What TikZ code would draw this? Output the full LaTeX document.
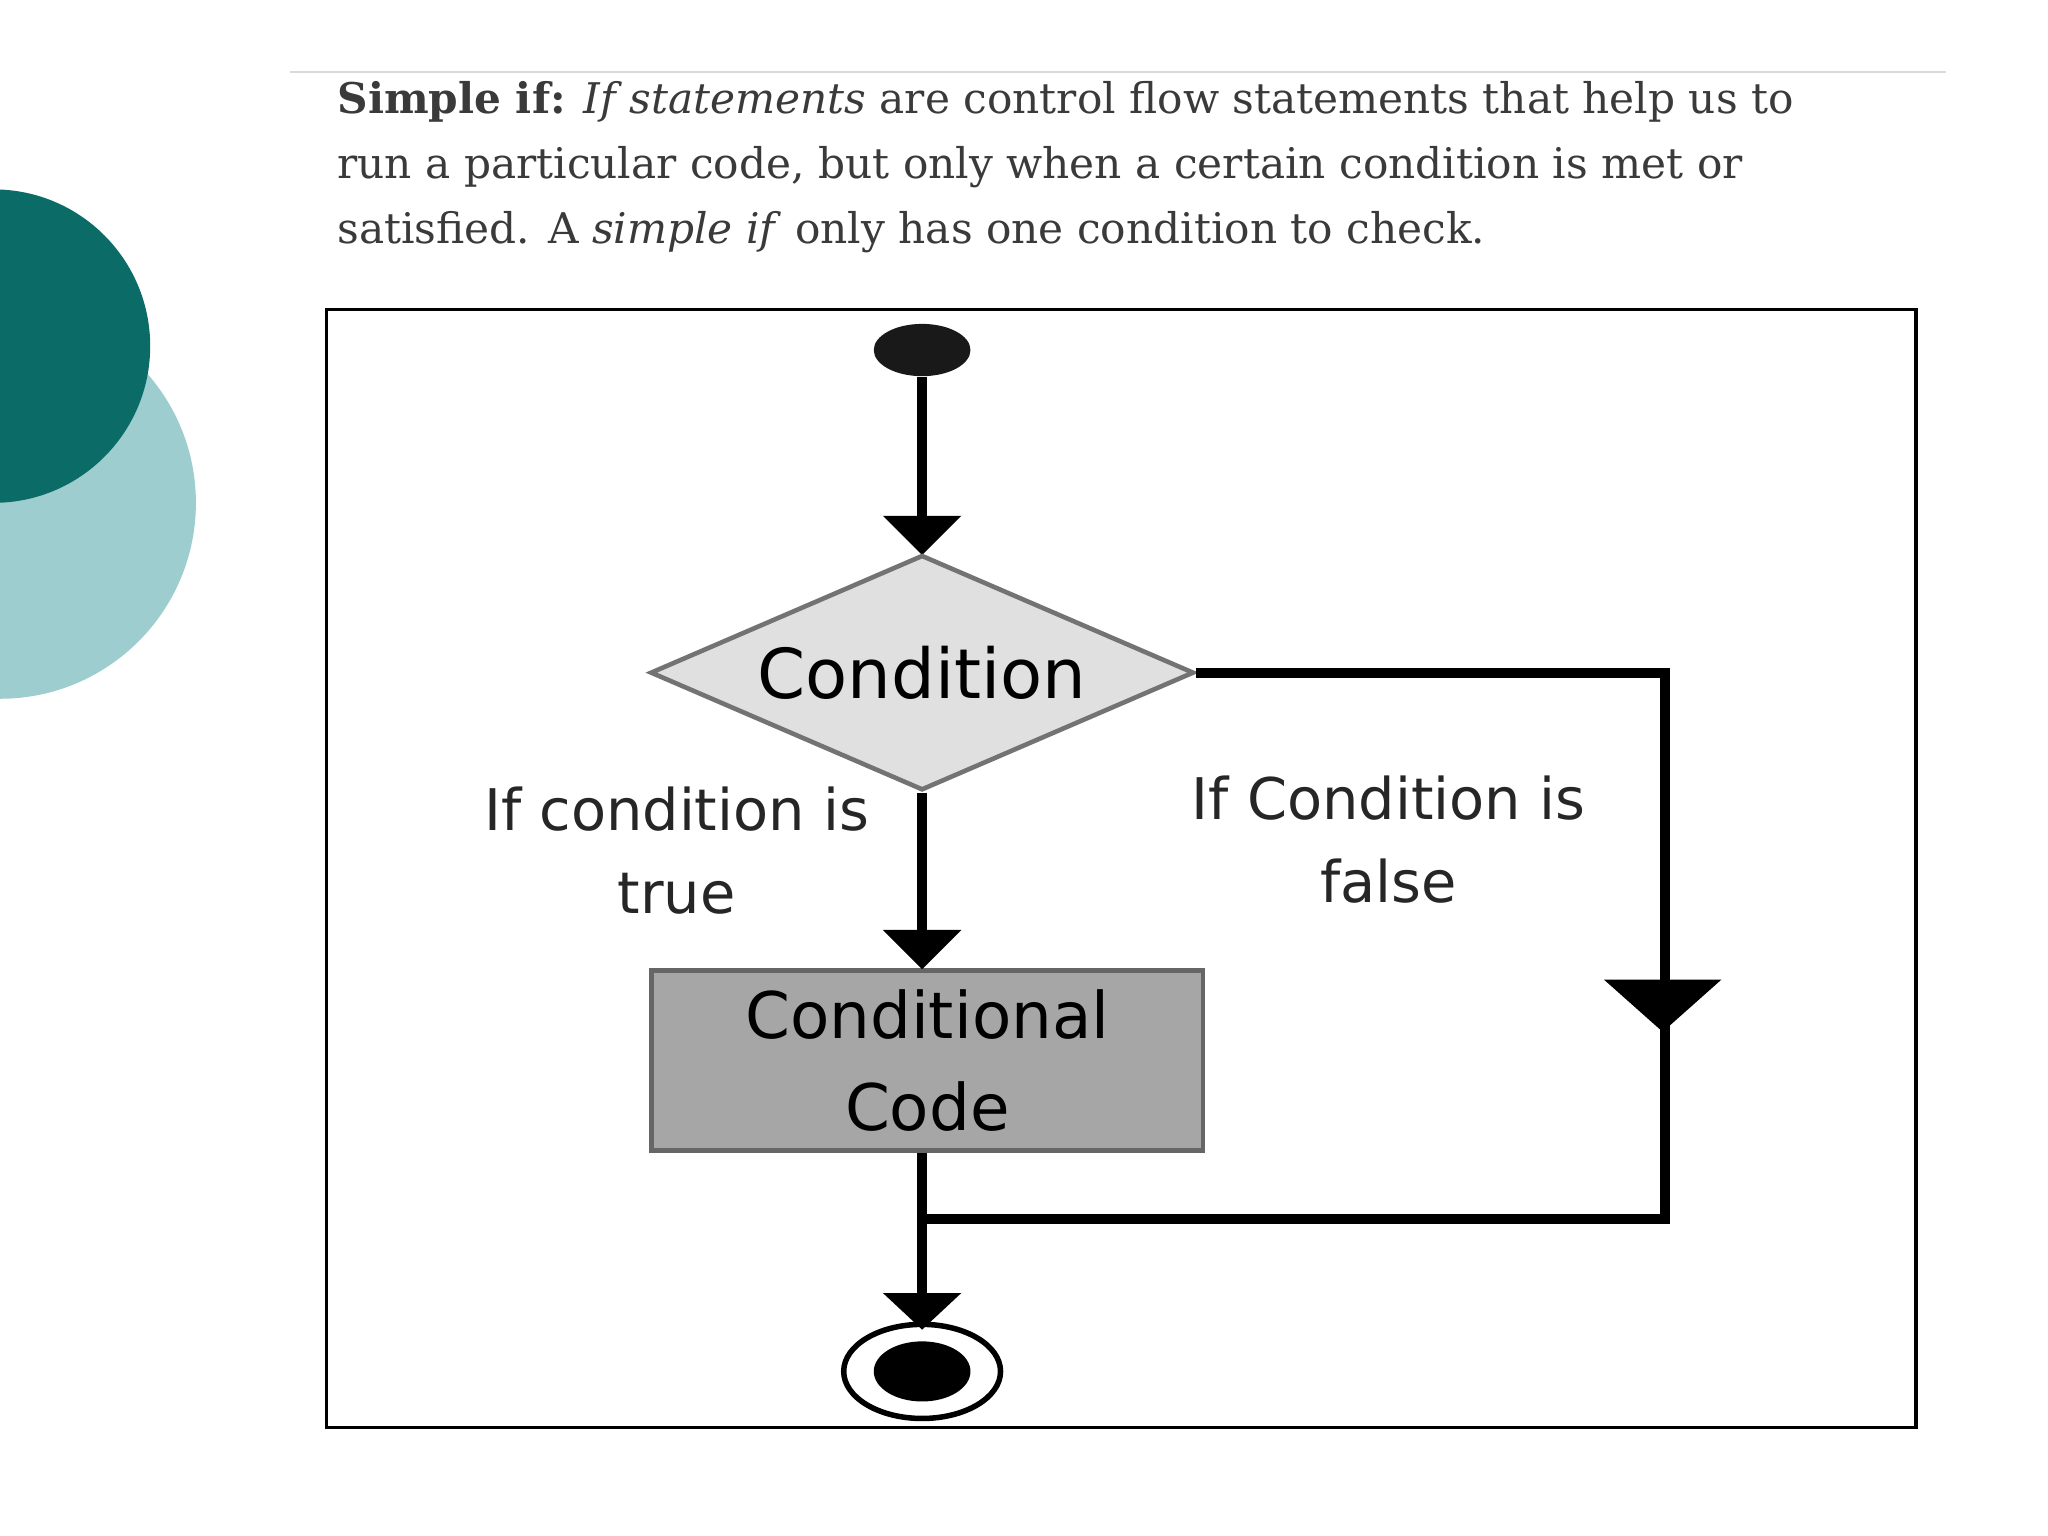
\documentclass[tikz,border=0pt]{standalone}
\usepackage{fontspec}
\setmainfont{DejaVu Serif}
\setsansfont{DejaVu Sans}
\usetikzlibrary{shapes.geometric}
\definecolor{darkteal}{HTML}{0B6B66}
\definecolor{lightteal}{HTML}{9ECDCF}
\definecolor{txt}{HTML}{3A3A3A}
\tikzset{
  conn/.style={line width=2.2pt},
  tip/.style={fill=black},
  lbl/.style={font=\sffamily\fontsize{12.5}{18}\selectfont, align=center, text=black!85},
}
\begin{document}
\begin{tikzpicture}[x=0.01cm,y=-0.01cm]
\useasboundingbox (0,0) rectangle (1568,1176);
\fill[white] (0,0) rectangle (1568,1176);
\begin{scope}
\clip (0,0) rectangle (1568,1176);
\fill[lightteal] (0,385) circle (150);
\fill[darkteal] (-5,265) circle (120);
\end{scope}
\draw[black!15] (222,55) -- (1490,55);
\node[anchor=west, text=txt, font=\fontsize{9.2}{14}\selectfont] at (246,78) {\textbf{Simple if:} \textit{If statements} are control flow statements that help us to};
\node[anchor=west, text=txt, font=\fontsize{9.2}{14}\selectfont] at (246,128) {run a particular code, but only when a certain condition is met or};
\node[anchor=west, text=txt, font=\fontsize{9.2}{14}\selectfont] at (246,178) {satisfied. A \textit{simple if} only has one condition to check.};
\draw[black, line width=0.8pt] (250,237) rectangle (1467,1093);
% start
\node[ellipse, fill=black!90, minimum width=0.74cm, minimum height=0.40cm, inner sep=0] (start) at (706,268) {};
\coordinate (a1) at (706,425);
\draw[conn] (start) -- (706,400);
\fill[tip] (676,395) -- (736,395) -- (a1) -- cycle;
% diamond
\node[draw=black!55, fill=black!12, line width=1pt, diamond, minimum width=4.16cm, minimum height=1.80cm, aspect=2.3, inner sep=0, font=\sffamily\fontsize{15}{18}\selectfont] (cond) at (706,515) {Condition};
% conditional code
\node[draw=black!60, fill=black!35, line width=1pt, minimum width=4.22cm, minimum height=1.38cm, align=center, inner sep=0, font=\sffamily\fontsize{14}{20}\selectfont] (code) at (710,812) {Conditional\\Code};
\coordinate (a2) at (706,742);
\draw[conn] (cond.south) -- (706,716);
\fill[tip] (676,712) -- (736,712) -- (a2) -- cycle;
% false branch
\coordinate (r1) at (1275,515);
\coordinate (r2) at (1275,933);
\coordinate (j) at (706,933);
\coordinate (a3) at (1273,790);
\draw[conn] (cond.east) -- (r1) -- (r2) -- (j);
\fill[tip] (1228,750) -- (1318,750) -- (a3) -- cycle;
% merge
\node[ellipse, draw=black, line width=1.2pt, minimum width=1.20cm, minimum height=0.72cm, inner sep=0] (endo) at (706,1050) {};
\node[ellipse, fill=black, minimum width=0.74cm, minimum height=0.46cm, inner sep=0] (endi) at (706,1050) {};
\coordinate (a4) at (706,1018);
\draw[conn] (code.south -| 706,0) -- (706,995);
\fill[tip] (676,990) -- (736,990) -- (a4) -- cycle;
% labels
\node[lbl] (lt) at (518,651) {If condition is\\true};
\node[lbl] (lf) at (1063,643) {If Condition is\\false};
\end{tikzpicture}
\end{document}
